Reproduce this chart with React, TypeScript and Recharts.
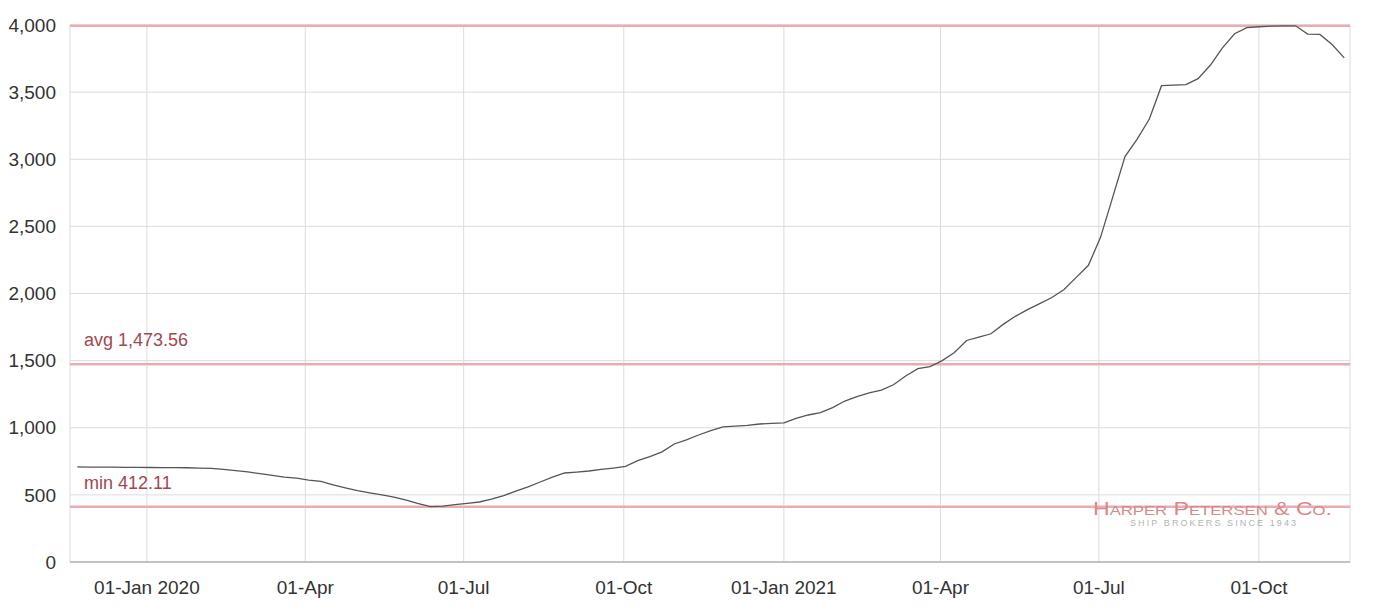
import React from "react";
import {
  LineChart,
  Line,
  XAxis,
  YAxis,
  CartesianGrid,
  ReferenceLine,
} from "recharts";

const DAY = 86400000;
const START = Date.UTC(2019, 10, 22); // first weekly print, Fri 22-Nov-2019

// weekly index values, 22-Nov-2019 .. 19-Nov-2021
const values = [
  708, 707, 706, 706, 705, 705, 704, 703, 703, 702,
  700, 698, 690, 680, 671, 658, 645, 632, 625, 610,
  600, 575, 552, 532, 515, 500, 484, 460, 435, 412.11,
  416, 428, 437, 447, 468, 495, 528, 560, 596, 632,
  663, 670, 678, 690, 700, 712, 755, 785, 820, 879,
  910, 946, 978, 1006, 1012, 1018, 1028, 1033, 1036, 1070,
  1095, 1112, 1150, 1199, 1232, 1260, 1280, 1320, 1385, 1440,
  1455, 1500, 1560, 1650, 1675, 1700, 1770, 1830, 1880, 1925,
  1970, 2030, 2120, 2210, 2420, 2720, 3020, 3150, 3300, 3548,
  3552, 3556, 3600, 3700, 3830, 3935, 3980, 3987, 3991, 3993,
  3994, 3932, 3930, 3855, 3755,
];

const tickDates = [
  Date.UTC(2020, 0, 1),
  Date.UTC(2020, 3, 1),
  Date.UTC(2020, 6, 1),
  Date.UTC(2020, 9, 1),
  Date.UTC(2021, 0, 1),
  Date.UTC(2021, 3, 1),
  Date.UTC(2021, 6, 1),
  Date.UTC(2021, 9, 1),
];
const tickLabels = [
  "01-Jan 2020",
  "01-Apr",
  "01-Jul",
  "01-Oct",
  "01-Jan 2021",
  "01-Apr",
  "01-Jul",
  "01-Oct",
];
const yTicks = [0, 500, 1000, 1500, 2000, 2500, 3000, 3500, 4000];

const AVG = 1473.56;
const MIN = 412.11;
const MAX = Math.max(...values);

const data = values.map((v, i) => ({ t: START + i * 7 * DAY, v }));

const FONT = "'Liberation Sans Narrow', 'Liberation Sans', Arial, sans-serif";
const RED = "#e8adb1";
const LABEL = "#a34650";

const refLabel = (text: string) => (p: any) => (
  <text
    x={p.viewBox.x + 14}
    y={p.viewBox.y - 18}
    fill={LABEL}
    fontSize={18}
    fontFamily={FONT}
  >
    {text}
  </text>
);

export default function App() {
  const x0 = Date.UTC(2020, 0, 1);
  return (
    <div style={{ position: "absolute", left: 0, top: 0, width: 1375, height: 610, background: "#fff" }}>
      <LineChart
        width={1375}
        height={610}
        data={data}
        margin={{ top: 25, right: 25, bottom: 18, left: 0 }}
      >
        <CartesianGrid stroke="#dcdcdc" />
        <XAxis
          dataKey="t"
          type="number"
          scale="time"
          domain={[x0 - 44.2 * DAY, x0 + 691.3 * DAY]}
          ticks={tickDates}
          tickFormatter={(t: number) => tickLabels[tickDates.indexOf(t)]}
          tickLine={false}
          tickSize={0}
          tickMargin={19}
          height={30}
          stroke="#b5b5b5"
          strokeWidth={1.5}
          tick={{ fill: "#333", fontSize: 19, fontFamily: FONT }}
        />
        <YAxis
          domain={[0, 4000]}
          ticks={yTicks}
          width={70}
          axisLine={false}
          tickLine={false}
          tickSize={0}
          tickMargin={14}
          tickFormatter={(v: number) => v.toLocaleString("en-US")}
          tick={{ fill: "#333", fontSize: 19, fontFamily: FONT }}
        />
        <ReferenceLine y={MAX} stroke={RED} strokeWidth={2.5} />
        <ReferenceLine y={AVG} stroke={RED} strokeWidth={2.5} label={refLabel("avg 1,473.56")} />
        <ReferenceLine y={MIN} stroke={RED} strokeWidth={2.5} label={refLabel("min 412.11")} />
        <Line
          type="linear"
          dataKey="v"
          stroke="#555"
          strokeWidth={1.3}
          dot={false}
          isAnimationActive={false}
        />
      </LineChart>
      <svg
        width={1375}
        height={610}
        style={{ position: "absolute", left: 0, top: 0, pointerEvents: "none" }}
      >
        <text
          x={1093}
          y={515}
          fill="#d9878b"
          fontFamily="'Liberation Sans', sans-serif"
          fontSize={18}
          textLength={239}
          lengthAdjust="spacingAndGlyphs"
          style={{ fontVariant: "small-caps" }}
        >
          Harper Petersen &amp; Co.
        </text>
        <text
          x={1130}
          y={526}
          fill="#b3b3b3"
          fontFamily="'Liberation Sans', sans-serif"
          fontSize={9}
          textLength={166}
          lengthAdjust="spacing"
        >
          SHIP BROKERS SINCE 1943
        </text>
      </svg>
    </div>
  );
}
